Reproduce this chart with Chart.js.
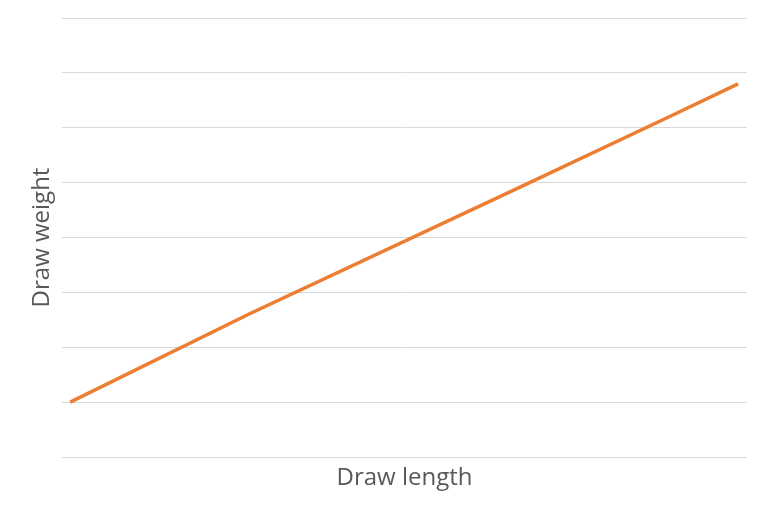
<!DOCTYPE html>
<html>
<head>
<meta charset="utf-8">
<script src="https://cdn.jsdelivr.net/npm/chart.js@4"></script>
<style>
  html, body { margin: 0; padding: 0; background: #fff; }
  #wrap { width: 768px; height: 517px; }
</style>
</head>
<body>
<div id="wrap"><canvas id="chart1"></canvas></div>
<script>
// values (x: 0-100 along the axis, y: gridline units)
var drawLength = [1.2, 27.4, 65.4, 88.8, 98.7];
var drawWeight = [1.0, 2.61, 4.83, 6.21, 6.8];
var yTicks = [0, 1, 2, 3, 4, 5, 6, 7, 8];

var points = drawLength.map(function (x, i) {
    return { x: x, y: drawWeight[i] };
});

var canvas = document.getElementById('chart1').getContext('2d');

new Chart(canvas, {
    type: 'line',
    data: {
        datasets: [{
            label: 'Draw weight',
            data: points,
            borderColor: '#ED7D31',
            borderWidth: 3.5,
            pointRadius: 0,
            fill: false,
            tension: 0
        }]
    },
    options: {
        responsive: true,
        maintainAspectRatio: false,
        animation: false,
        layout: { padding: { left: 24, right: 21, top: 18, bottom: 20 } },
        plugins: { legend: { display: false }, tooltip: { enabled: false } },
        scales: {
            x: {
                type: 'linear',
                min: 0,
                max: 100,
                grid: { display: false, drawTicks: false },
                border: { display: false },
                ticks: { display: false },
                title: {
                    display: true,
                    text: 'Draw length',
                    color: '#595959',
                    font: { family: 'Open Sans', size: 24 },
                    padding: { top: 7.2, bottom: 4 }
                }
            },
            y: {
                min: yTicks[0],
                max: yTicks[yTicks.length - 1],
                afterBuildTicks: function (axis) {
                    axis.ticks = yTicks.map(function (v) { return { value: v }; });
                },
                grid: { color: '#d9d9d9', lineWidth: 1, drawTicks: false },
                border: { display: false },
                ticks: { display: false },
                title: {
                    display: true,
                    text: 'Draw weight',
                    color: '#595959',
                    font: { family: 'Open Sans', size: 24 },
                    padding: { top: 4, bottom: 5.2 }
                }
            }
        }
    }
});
</script>
</body>
</html>
